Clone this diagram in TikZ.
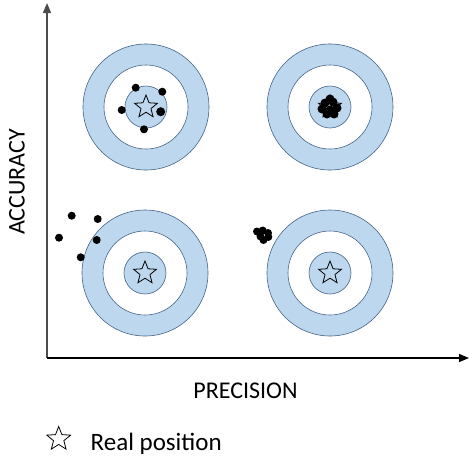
\documentclass[tikz,border=0pt]{standalone}
\usepackage{fontspec}
\setmainfont{Carlito}
\usetikzlibrary{arrows.meta,shapes.geometric}
\definecolor{ringblue}{RGB}{189,215,238}
\definecolor{ringline}{RGB}{70,100,135}
\tikzset{
  ring/.style={circle,draw=ringline,line width=0.6pt,inner sep=0pt,minimum size=#1},
  realstar/.style={star,star points=5,star point ratio=2.3,draw,line width=0.8pt,inner sep=0pt,minimum size=24pt},
  shot/.style={circle,fill=black,inner sep=0pt,minimum size=8pt},
  axis/.style={-{Triangle[length=10pt,width=8pt]},line width=1.3pt},
  label/.style={font=\fontsize{24}{28}\selectfont,inner sep=0pt}
}
\begin{document}
\begin{tikzpicture}[x=1pt,y=-1pt]
\useasboundingbox (0,0) rectangle (474,459);
% axes
\coordinate (origin) at (47,358);
\coordinate (ytip) at (47,3);
\coordinate (xtip) at (469,358);
\draw[axis,black!70] (origin) -- (ytip);
\draw[axis] (origin) -- (xtip);
\node[label,rotate=90] (acc) at (17,182) {ACCURACY};
\node[label] (prec) at (245.5,391) {PRECISION};

% targets
\foreach \name/\cx/\cy in {tl/146/107,tr/330/107,bl/145/273,br/330/273}{
  \node[ring=126pt,fill=ringblue] (\name) at (\cx,\cy) {};
  \node[ring=84pt,fill=white] (\name w) at (\name) {};
  \node[ring=42pt,fill=ringblue] (\name c) at (\name) {};
  \node[realstar] (\name s) at (\name) {};
}

% shots: precise and accurate
\foreach \i/\px/\py in {1/325/103,2/333/102,3/322/109,4/330/110,5/337/108,6/327/114,7/334/114,8/330/99}
  \node[shot,minimum size=9pt] (pa\i) at (\px,\py) {};
% shots: accurate, not precise
\foreach \i/\px/\py in {1/135.7/87.7,2/162.3/91.7,3/121.7/110,4/144/129.3}
  \node[shot] (na\i) at (\px,\py) {};
\node[shot,minimum size=9pt] (na5) at (160.7,111.7) {};
% shots: neither
\foreach \i/\px/\py in {1/71.7/215.7,2/97.7/219,3/59/237.7,4/96.7/240,5/80.7/257.3}
  \node[shot] (nn\i) at (\px,\py) {};
% shots: precise, not accurate
\foreach \i/\px/\py in {1/257/231.5,2/262.7/230.5,3/268/233,4/263.5/240,5/268.3/237,6/260.5/236.5}
  \node[shot] (pn\i) at (\px,\py) {};

% legend
\node[realstar,minimum size=25pt] (key) at (58.7,439) {};
\node[label,font=\fontsize{25}{30}\selectfont,anchor=base west] (keytext) at (90.5,450) {Real position};
\end{tikzpicture}
\end{document}
